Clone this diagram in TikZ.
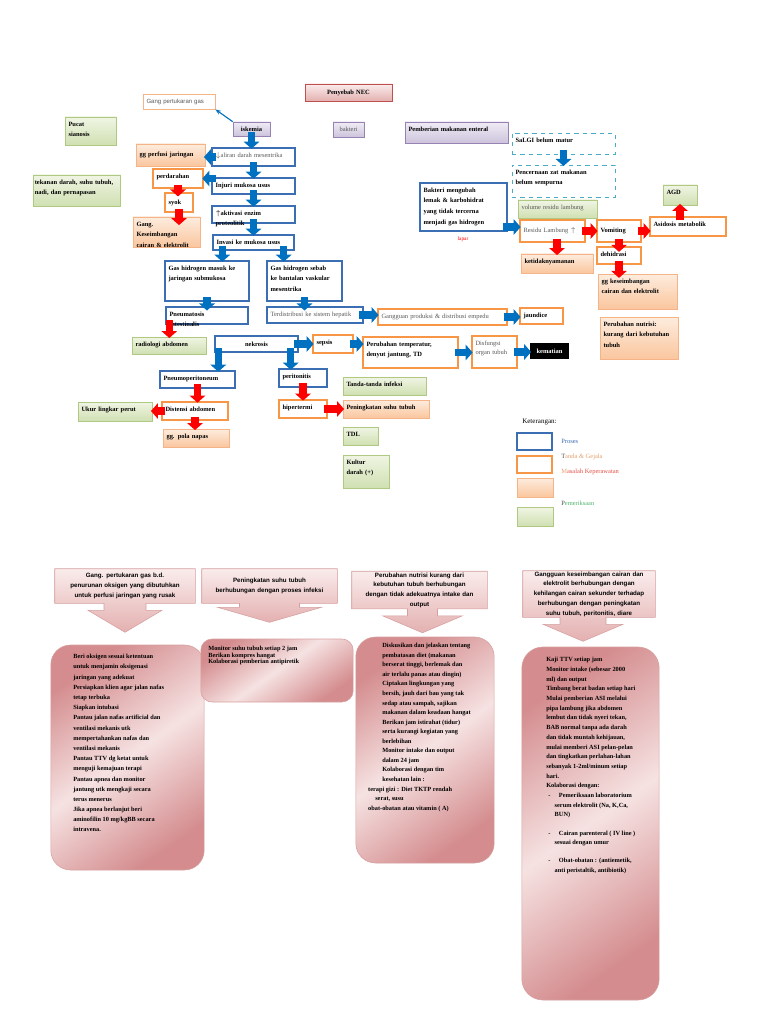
\documentclass[tikz,border=0pt]{standalone}
\usepackage{fontspec}
\setmainfont{Liberation Serif}
\setsansfont{Liberation Sans}
\usetikzlibrary{arrows.meta,calc,backgrounds}

\definecolor{procblue}{RGB}{60,110,180}
\definecolor{arrblue}{RGB}{0,112,192}
\definecolor{orline}{RGB}{247,150,70}
\definecolor{orsoft}{RGB}{245,180,135}
\definecolor{orlight}{RGB}{253,236,222}
\definecolor{ordark}{RGB}{250,198,158}
\definecolor{grline}{RGB}{175,200,130}
\definecolor{grlight}{RGB}{240,245,228}
\definecolor{grdark}{RGB}{208,224,178}
\definecolor{lvline}{RGB}{150,130,180}
\definecolor{lvlight}{RGB}{240,236,245}
\definecolor{lvdark}{RGB}{205,195,220}
\definecolor{pkline}{RGB}{192,80,77}
\definecolor{pklight}{RGB}{250,236,236}
\definecolor{pkdark}{RGB}{228,176,176}
\definecolor{cyanline}{RGB}{75,172,198}
\definecolor{txtgray}{RGB}{90,90,90}
\definecolor{bodyedge}{RGB}{212,140,142}
\definecolor{bodymid}{RGB}{246,226,226}
\definecolor{hdrline}{RGB}{215,160,160}
\definecolor{tancol}{RGB}{228,160,110}
\definecolor{malcol}{RGB}{226,80,70}
\definecolor{pemcol}{RGB}{80,180,110}

\tikzset{
  % box size in pixels of the page, text at the top left
  sz/.code 2 args={%
    \pgfmathsetlengthmacro\szw{#1*0.025cm}%
    \pgfmathsetlengthmacro\szh{#2*0.025cm}%
    \pgfmathsetlengthmacro\sztw{#1*0.025cm-5pt}%
    \pgfmathsetlengthmacro\sztd{#2*0.025cm-7.5pt}%
    \edef\szkeys{minimum width=\szw, minimum height=\szh, text width=\sztw,
      text height=5.5pt, text depth=\sztd}%
    \expandafter\pgfkeysalso\expandafter{\szkeys}},
  % box size, text centred
  szc/.code 2 args={%
    \pgfmathsetlengthmacro\szw{#1*0.025cm}%
    \pgfmathsetlengthmacro\szh{#2*0.025cm}%
    \pgfmathsetlengthmacro\sztw{#1*0.025cm-5pt}%
    \edef\szkeys{minimum width=\szw, minimum height=\szh, text width=\sztw}%
    \expandafter\pgfkeysalso\expandafter{\szkeys}},
  box/.style={inner sep=1pt, align=left},
  proc/.style={box, draw=procblue, line width=1pt, fill=white},
  tanda/.style={box, draw=orline, line width=1.1pt, fill=white},
  masalah/.style={box, draw=orsoft, line width=0.5pt, top color=orlight, bottom color=ordark},
  periksa/.style={box, draw=grline, line width=0.5pt, top color=grlight, bottom color=grdark},
  sebab/.style={box, draw=lvline, line width=0.5pt, top color=lvlight, bottom color=lvdark},
  belum/.style={box, draw=cyanline, dashed, line width=0.6pt},
  necbox/.style={box, draw=pkline, line width=0.6pt, top color=pklight, bottom color=pkdark},
  mati/.style={box, fill=black, text=white},
  soft/.style={text=txtgray, font=\fontsize{4.6}{7}\selectfont\mdseries},
  barr/.style={draw=arrblue, line width=5pt, shorten <=-3pt, shorten >=-1pt,
    -{Triangle[width=11pt,length=5pt]}},
  rarr/.style={barr, draw=red},
  hdr/.style={align=center, inner sep=0pt, font=\sffamily\bfseries\fontsize{4.4}{6.9}\selectfont},
  hdrshape/.style={draw=hdrline, line width=0.4pt, top color=pklight, bottom color=pkdark},
  body/.style={draw=hdrline, line width=0.4pt, top color=bodyedge, bottom color=bodyedge,
    middle color=bodymid, shading angle=35},
  bodytxt/.style={anchor=north west, align=left, inner sep=0pt},
  legtext/.style={anchor=west, inner sep=0pt, font=\fontsize{4.6}{5}\selectfont\mdseries}
}

\begin{document}
\begin{tikzpicture}[x=0.025cm, y=-0.025cm, font=\fontsize{4.6}{7.6}\selectfont\bfseries]
  \useasboundingbox (0,0) rectangle (768,1024);

  % causes
  \node[necbox, szc={87}{17}, align=center] (nec) at (348.5,92.5) {Penyebab NEC};
  \node[sebab, szc={37}{14}, align=center] (iskemia) at (251.5,129) {iskemia};
  \node[sebab, soft, szc={31}{15}, align=center] (bakteri) at (348.5,129.5) {bakteri};
  \node[sebab, sz={103}{21}] (enteral) at (456.5,132.5) {Pemberian makanan enteral};

  % ischemia branch
  \node[tanda, soft, line width=0.6pt, draw=orsoft, font=\sffamily\fontsize{4.3}{6}\selectfont,
    szc={72}{15}] (gpg) at (179,101.5) {Gang pertukaran gas};
  \node[periksa, sz={51}{28}] (pucat) at (90.5,131) {Pucat\\sianosis};
  \node[masalah, szc={69}{22}] (ggperf) at (170.5,155) {gg perfusi jaringan};
  \node[periksa, sz={78}{31}, text width=60pt] (ttv) at (77,190.5) {tekanan darah, suhu tubuh,\\nadi, dan pernapasan};
  \node[tanda, sz={50}{19}] (perdarahan) at (178,178.5) {perdarahan};
  \node[tanda, szc={28}{19}] (syok) at (179,202.5) {syok};
  \node[masalah, sz={67}{30}] (ggkes1) at (166.5,232) {Gang.\\Keseimbangan\\cairan \& elektrolit};

  \node[proc, soft, sz={83}{18}] (aliran) at (253.5,157) {$\downarrow$aliran darah mesentrika};
  \node[proc, sz={83}{16}] (injuri) at (253.5,186) {Injuri mukosa usus};
  \node[proc, sz={83}{17}] (aktivasi) at (253.5,214.5) {$\uparrow$aktivasi enzim\\proteolitik};
  \node[proc, sz={81}{15}] (invasi) at (253.5,242.5) {Invasi ke mukosa usus};
  \node[proc, sz={84}{40}] (gasmasuk) at (207,281) {Gas hidrogen masuk ke\\jaringan submukosa};
  \node[proc, sz={75}{40}] (gassebab) at (304.5,281) {Gas hidrogen sebab\\ke bantalan vaskular\\mesentrika};
  \node[proc, sz={82}{17}] (pneumatosis) at (207,315.5) {Pneumatosis\\intestinalis};
  \node[proc, soft, sz={96}{16}] (hepatik) at (315,315) {Terdistribusi ke sistem hepatik};
  \node[periksa, sz={74}{17}] (radiologi) at (169,345.5) {radiologi abdomen};
  \node[tanda, soft, sz={129}{16}] (empedu) at (442.5,317) {Gangguan produksi \& distribusi empedu};
  \node[tanda, sz={43}{16}] (jaundice) at (541.5,316) {jaundice};

  \node[proc, szc={83}{16}, align=center] (nekrosis) at (256.5,344) {nekrosis};
  \node[tanda, sz={40}{18}] (sepsis) at (333,344) {sepsis};
  \node[tanda, sz={95}{31}] (suhutd) at (410.5,352.5) {Perubahan temperatur,\\denyut jantung, TD};
  \node[tanda, soft, sz={45}{32}] (disfungsi) at (494.5,352) {Disfungsi\\organ tubuh};
  \node[mati, szc={39}{16}, align=center] (kematian) at (549.5,351) {kematian};
  \node[proc, sz={75}{17}] (pneumoper) at (197.5,379.5) {Pneumoperitoneum};
  \node[proc, sz={48}{18}] (peritonitis) at (303,378) {peritonitis};
  \node[periksa, sz={83}{18}] (infeksi) at (384.5,386) {Tanda-tanda infeksi};
  \node[tanda, sz={66}{18}] (distensi) at (195,411) {Distensi abdomen};
  \node[periksa, sz={74}{19}] (lingkar) at (115,411.5) {Ukur lingkar perut};
  \node[masalah, sz={66}{18}] (polanapas) at (196,438) {gg. pola napas};
  \node[tanda, sz={48}{18}] (hipertermi) at (303,409) {hipertermi};
  \node[masalah, sz={86}{18}] (suhu) at (386,409) {Peningkatan suhu tubuh};
  \node[periksa, sz={35}{18}] (tdl) at (360.5,436) {TDL};
  \node[periksa, sz={46}{33}] (kultur) at (366,471.5) {Kultur\\darah (+)};

  % feeding branch
  \node[belum, sz={103}{21}] (salgi) at (563.5,143.5) {SaLGI belum matur};
  \node[belum, sz={103}{32}] (cerna) at (563.5,181) {Pencernaan zat makanan\\belum sempurna};
  \node[proc, sz={87}{48}] (ubahgas) at (463.5,207) {Bakteri mengubah\\lemak \& karbohidrat\\yang tidak tercerna\\menjadi gas hidrogen};
  \node[text=red, font=\fontsize{3.8}{4}\selectfont] (lapar) at (463,239) {lapar};
  \node[periksa, soft, sz={79}{18}] (volres) at (557.5,209) {volume residu lambung};
  \node[tanda, soft, szc={65}{22}] (residu) at (552.5,231) {Residu Lambung $\uparrow$};
  \node[tanda, szc={44}{22}] (vomiting) at (619,231) {Vomiting};
  \node[tanda, sz={76}{19}] (asidosis) at (688,226.5) {Asidosis metabolik};
  \node[periksa, sz={34}{20}] (agd) at (680,195) {AGD};
  \node[masalah, sz={72}{19}] (nyaman) at (557,263.5) {ketidaknyamanan};
  \node[tanda, sz={44}{17}] (dehidrasi) at (619,255.5) {dehidrasi};
  \node[masalah, sz={79}{35}] (ggkes2) at (637.5,291.5) {gg keseimbangan\\cairan dan elektrolit};
  \node[masalah, sz={78}{42}] (nutrisi) at (639,338) {Perubahan nutrisi:\\kurang dari kebutuhan\\tubuh};

  % legend
  \node[legtext, font=\fontsize{5}{6}\selectfont] (ket) at (522,422) {Keterangan:};
  \node[proc, szc={35}{17}] (lg1) at (534.5,441.5) {};
  \node[tanda, szc={35}{17}] (lg2) at (534.5,464.5) {};
  \node[masalah, szc={36}{19}] (lg3) at (535,487.5) {};
  \node[periksa, szc={36}{19}] (lg4) at (535,516.5) {};
  \node[legtext, text=procblue] (lt1) at (561,441) {Proses};
  \node[legtext, text=tancol] (lt2) at (561,457) {{\color{black!70}T}anda \& Gejala};
  \node[legtext, text=malcol] (lt3) at (561,472) {{\color{tancol}M}asalah Keperawatan};
  \node[legtext, text=pemcol] (lt4) at (561,503) {{\color{black!70}P}emeriksaan};

  % blue arrows
  \draw[barr] (iskemia.south) -- (iskemia.south |- aliran.north);
  \draw[barr] (aliran.south) -- (aliran.south |- injuri.north);
  \draw[barr] (injuri.south) -- (injuri.south |- aktivasi.north);
  \draw[barr] (aktivasi.south) -- (aktivasi.south |- invasi.north);
  \draw[barr] (aliran.west) -- (aliran.west -| ggperf.east);
  \draw[barr] (injuri.west |- perdarahan.east) -- (perdarahan.east);
  \coordinate (inv1) at ($(invasi.south west)+(10,0)$);
  \coordinate (inv2) at ($(invasi.south east)+(-11,0)$);
  \draw[barr] (inv1) -- (inv1 |- gasmasuk.north);
  \draw[barr] (inv2) -- (inv2 |- gassebab.north);
  \draw[barr, shorten >=-3pt] (gasmasuk.south) -- (gasmasuk.south |- pneumatosis.north);
  \draw[barr, shorten >=-3pt] (gassebab.south) -- (gassebab.south |- hepatik.north);
  \draw[barr] (hepatik.east) -- (hepatik.east -| empedu.west);
  \draw[barr] (empedu.east) -- (empedu.east -| jaundice.west);
  \draw[barr] (nekrosis.east) -- (nekrosis.east -| sepsis.west);
  \draw[barr] (sepsis.east) -- (sepsis.east -| suhutd.west);
  \draw[barr] (suhutd.east) -- (suhutd.east -| disfungsi.west);
  \draw[barr] (disfungsi.east) -- (disfungsi.east -| kematian.west);
  \coordinate (nk1) at ($(nekrosis.south west)+(4,0)$);
  \coordinate (nk2) at ($(nekrosis.south east)+(-8,0)$);
  \draw[barr] (nk1) -- (nk1 |- pneumoper.north);
  \draw[barr] (nk2) -- (nk2 |- peritonitis.north);
  \draw[barr] (salgi.south) -- (salgi.south |- cerna.north);
  \coordinate (ub) at ($(ubahgas.east)+(0,20)$);
  \draw[barr] (ub) -- (ub -| residu.west);
  \draw[arrblue, line width=0.8pt, -{Stealth[length=4pt]}] (iskemia.north west) -- (gpg.south east);

  % red arrows
  \draw[rarr, shorten >=-3pt] (perdarahan.south) -- (perdarahan.south |- syok.north);
  \draw[rarr, shorten >=-6pt] (syok.south) -- (syok.south |- ggkes1.north);
  \coordinate (pn) at ($(pneumatosis.south west)+(4,0)$);
  \draw[rarr] (pn) -- (pn |- radiologi.north);
  \draw[rarr] (pneumoper.south) -- (pneumoper.south |- distensi.north);
  \draw[rarr] (distensi.west) -- (distensi.west -| lingkar.east);
  \draw[rarr] (distensi.south) -- (distensi.south |- polanapas.north);
  \draw[rarr] (peritonitis.south) -- (peritonitis.south |- hipertermi.north);
  \draw[rarr] (hipertermi.east) -- (hipertermi.east -| suhu.west);
  \draw[rarr] (residu.east) -- (residu.east -| vomiting.west);
  \draw[rarr] (vomiting.east) -- (vomiting.east -| asidosis.west);
  \draw[rarr] (agd.south |- asidosis.north) -- (agd.south);
  \draw[rarr] (nyaman.north |- residu.south) -- (nyaman.north);
  \draw[rarr, shorten >=-4pt] (vomiting.south) -- (vomiting.south |- dehidrasi.north);
  \draw[rarr, shorten >=-3pt] (dehidrasi.south) -- (dehidrasi.south |- ggkes2.north);

  % nursing problems
  \node[hdr, szc={140}{34}] (h1) at (125,586) {Gang. pertukaran gas b.d.\\penurunan oksigen yang dibutuhkan\\untuk perfusi jaringan yang rusak};
  \node[hdr, szc={135}{34}] (h2) at (269.5,586) {Peningkatan suhu tubuh\\berhubungan dengan proses infeksi};
  \node[hdr, szc={135}{37}] (h3) at (419.5,590) {Perubahan nutrisi kurang dari\\kebutuhan tubuh berhubungan\\dengan tidak adekuatnya intake dan\\output};
  \node[hdr, szc={132}{46}] (h4) at (589,594) {Gangguan keseimbangan cairan dan\\elektrolit berhubungan dengan\\kehilangan cairan sekunder terhadap\\berhubungan dengan peningkatan\\suhu tubuh, peritonitis, diare};
  \begin{scope}[on background layer]
    \foreach \n/\c/\s/\l/\w/\t in {h1/0/21/7/37/29, h2/0/30/4/52/19, h3/3/15/7/40/24, h4/-6/23/7/40/24}
      \path[hdrshape] (\n.north west) -- (\n.north east) -- (\n.south east)
        -- ($(\n.south)+(\c+\s,0)$) -- ($(\n.south)+(\c+\s,\l)$) -- ($(\n.south)+(\c+\w,\l)$)
        -- ($(\n.south)+(\c,\t)$)
        -- ($(\n.south)+(\c-\w,\l)$) -- ($(\n.south)+(\c-\s,\l)$) -- ($(\n.south)+(\c-\s,0)$)
        -- (\n.south west) -- cycle;
  \end{scope}

  % interventions
  \node[body, rounded corners=14pt, szc={151}{225}] (b1) at (127.5,757.5) {};
  \node[body, rounded corners=8pt, szc={150}{63}] (b2) at (277,670.5) {};
  \node[body, rounded corners=14pt, szc={136}{226}] (b3) at (425,750) {};
  \node[body, rounded corners=15pt, szc={135}{353}] (b4) at (590.5,823.5) {};

  \node[bodytxt, font=\fontsize{4.5}{7.25}\selectfont\bfseries] (t1) at (73,654) {Beri oksigen sesuai ketentuan\\
    untuk menjamin oksigenasi\\jaringan yang adekuat\\Persiapkan klien agar jalan nafas\\
    tetap terbuka\\Siapkan intubasi\\Pantau jalan nafas artificial dan\\ventilasi mekanis utk\\
    mempertahankan nafas dan\\ventilasi mekanis\\Pantau TTV dg ketat untuk\\
    menguji kemajuan terapi\\Pantau apnea dan monitor\\jantung utk mengkaji secara\\
    terus menerus\\Jika apnea berlanjut beri\\aminofilin 10 mg/kgBB secara\\intravena.};
  \node[bodytxt, font=\fontsize{4.5}{4.6}\selectfont\bfseries] (t2) at (208,646) {Monitor suhu tubuh setiap 2 jam\\
    Berikan kompres hangat\\Kolaborasi pemberian antipiretik};
  \node[bodytxt, font=\fontsize{4.5}{6.8}\selectfont\bfseries] (t3) at (382,643) {Diskusikan dan jelaskan tentang\\
    pembatasan diet (makanan\\berserat tinggi, berlemak dan\\air terlalu panas atau dingin)\\
    Ciptakan lingkungan yang\\bersih, jauh dari bau yang tak\\sedap atau sampah, sajikan\\
    makanan dalam keadaan hangat\\Berikan jam istirahat (tidur)\\serta kurangi kegiatan yang\\
    berlebihan\\Monitor intake dan output\\dalam 24 jam\\Kolaborasi dengan tim\\kesehatan lain :\\
    \hspace*{-10pt}terapi gizi : Diet TKTP rendah\\\hspace*{-5pt}serat, susu\\
    \hspace*{-10pt}obat-obatan atau vitamin ( A)};
  \node[bodytxt, font=\fontsize{4.5}{6.9}\selectfont\bfseries] (t4) at (546,657) {Kaji TTV setiap jam\\
    Monitor intake (sebesar 2000\\ml) dan output\\Timbang berat badan setiap hari\\
    Mulai pemberian ASI melalui\\pipa lambung jika abdomen\\lembut dan tidak nyeri tekan,\\
    BAB normal tanpa ada darah\\dan tidak muntah kehijauan,\\mulai memberi ASI pelan-pelan\\
    dan tingkatkan perlahan-lahan\\sebanyak 1-2ml/minum setiap\\hari.\\Kolaborasi dengan:\\
    \hspace*{1.5pt}-\hspace{6pt}Pemeriksaan laboratorium\\\hspace*{6pt}serum elektrolit (Na, K,Ca,\\
    \hspace*{6pt}BUN)\\[6pt]
    \hspace*{1.5pt}-\hspace{6pt}Cairan parenteral ( IV line )\\\hspace*{6pt}sesuai dengan umur\\[6pt]
    \hspace*{1.5pt}-\hspace{6pt}Obat-obatan : (antiemetik,\\\hspace*{6pt}anti peristaltik, antibiotik)};
\end{tikzpicture}
\end{document}
